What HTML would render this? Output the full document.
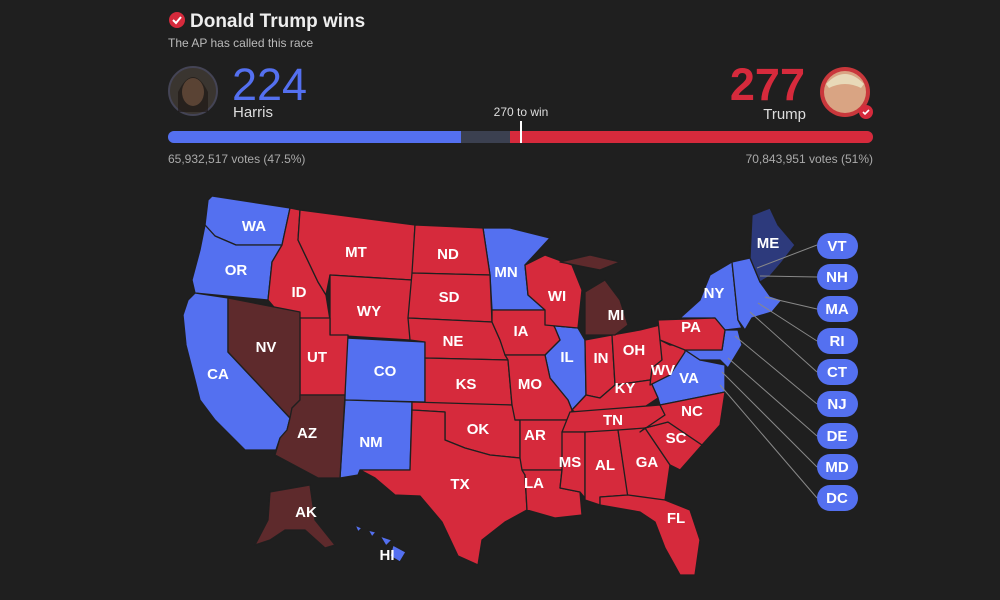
<!DOCTYPE html>
<html><head><meta charset="utf-8"><style>
html,body{margin:0;padding:0;background:#1f1f1f;width:1000px;height:600px;overflow:hidden;font-family:"Liberation Sans",Arial,sans-serif;}
</style></head><body>
<svg width="1000" height="600" viewBox="0 0 1000 600" xmlns="http://www.w3.org/2000/svg" font-family="Liberation Sans, Arial, sans-serif">
<rect width="1000" height="600" fill="#1f1f1f"/>
<circle cx="177" cy="20" r="8" fill="#d62a3c"/>
<path d="M173 20 l3 3 l5 -6" stroke="#fff" stroke-width="2" fill="none"/>
<text x="190" y="27" font-size="19" font-weight="bold" fill="#eee">Donald Trump wins</text>
<text x="168" y="47" font-size="12" fill="#bbb">The AP has called this race</text>
<circle cx="193" cy="91" r="24" fill="#3a3530" stroke="#445" stroke-width="2"/>
<ellipse cx="193" cy="92" rx="11" ry="14" fill="#b88a6a"/>
<path d="M178 92 q15 -30 30 0 l0 20 l-30 0z" fill="#1a1411" opacity="0.6"/>
<text x="232" y="100" font-size="45" fill="#5470f0">224</text>
<text x="233" y="117" font-size="15" fill="#ddd">Harris</text>
<text x="805" y="100" font-size="45" fill="#d62a3c" text-anchor="end" font-weight="bold">277</text>
<text x="806" y="119" font-size="15" fill="#ddd" text-anchor="end">Trump</text>
<circle cx="845" cy="92" r="25" fill="#c9373b"/>
<circle cx="845" cy="92" r="21" fill="#d9a483"/>
<path d="M826 84 q19 -20 38 0 l-3 4 q-16 -8 -32 0z" fill="#e8d9b8"/>
<circle cx="866" cy="112" r="7" fill="#d62a3c"/>
<path d="M863 112 l2 2 l4 -4" stroke="#fff" stroke-width="1.6" fill="none"/>
<text x="521" y="116" font-size="12" fill="#ddd" text-anchor="middle">270 to win</text>
<rect x="168" y="131" width="705" height="12" rx="6" fill="#3b4050"/>
<path d="M174 131 H461 V143 H174 a6 6 0 0 1 0 -12z" fill="#5470f0"/>
<path d="M510 131 H867 a6 6 0 0 1 0 12 H510z" fill="#d62a3c"/>
<rect x="520" y="121" width="2" height="22" fill="#fff"/>
<text x="168" y="163" font-size="12" fill="#aaa">65,932,517 votes (47.5%)</text>
<text x="873" y="163" font-size="12" fill="#aaa" text-anchor="end">70,843,951 votes (51%)</text>

<g stroke="#1f1f1f" stroke-width="1.3" stroke-linejoin="round">
<g fill="#5470f0">
<polygon points="212,196 290,208 282,245 236,245 215,236 205,225 208,200"/>
<polygon points="205,225 215,236 236,245 282,245 272,262 268,300 195,293 192,280 200,250"/>
<polygon points="195,293 228,298 228,352 290,418 287,430 280,438 276,450 245,450 235,440 215,420 200,400 195,380 186,345 183,315 188,300"/>
<polygon points="345,338 425,342 425,402 345,400"/>
<polygon points="345,400 412,402 410,470 360,470 358,475 340,478"/>
<polygon points="483,228 510,228 550,238 525,265 528,295 545,310 492,310 490,275"/>
<polygon points="545,325 578,328 585,340 586,395 572,410 568,400 550,378 545,355 560,340 555,328"/>
<polygon points="650,380 665,375 685,350 700,360 725,365 725,392 660,405 658,398"/>
<polygon points="680,318 700,300 710,275 732,262 738,320 742,328 725,330 715,318"/>
<polygon points="685,350 722,350 725,330 738,330 742,345 728,368 720,360 700,360"/>
<polygon points="732,262 750,258 760,282 770,296 782,300 772,312 752,318 745,330 738,320"/>
<polygon points="355,525 362,528 358,532"/><polygon points="368,530 376,532 372,537"/>
<polygon points="380,536 392,540 386,546"/><polygon points="393,545 406,552 400,562 390,556"/>
</g>
<g fill="#d62a3c">
<polygon points="290,208 300,210 298,240 318,282 326,295 330,320 300,318 285,320 268,300 272,262 282,245"/>
<polygon points="300,210 415,225 412,280 330,275 326,295 318,282 298,240"/>
<polygon points="330,275 412,280 410,340 330,335"/>
<polygon points="300,318 330,318 330,335 348,335 345,395 300,395"/>
<polygon points="415,225 483,228 490,275 412,273"/>
<polygon points="412,273 490,275 492,322 408,318"/>
<polygon points="408,318 492,322 500,340 508,360 425,358 425,342 410,340"/>
<polygon points="425,358 508,360 512,405 425,405"/>
<polygon points="412,402 512,405 520,420 520,458 490,455 465,448 445,440 445,412 412,410"/>
<polygon points="360,470 410,470 412,410 445,412 445,440 465,448 490,455 520,458 525,475 527,510 505,522 482,540 478,565 458,556 442,522 420,496 395,495 375,478"/>
<polygon points="492,310 545,310 555,328 560,340 545,355 505,355 500,340 492,322"/>
<polygon points="505,355 545,355 550,378 568,400 572,410 570,420 515,420 512,405 508,360"/>
<polygon points="515,420 570,420 562,470 522,470 520,458 520,420"/>
<polygon points="522,470 562,470 560,488 580,492 582,515 555,518 527,510 525,475"/>
<polygon points="525,265 545,255 572,265 582,290 578,328 545,325 545,310 528,295"/>
<polygon points="585,340 612,335 615,385 600,398 586,395"/>
<polygon points="612,335 640,330 660,325 662,360 650,380 615,385"/>
<polygon points="572,410 586,395 600,398 615,385 650,380 658,398 640,410 575,412"/>
<polygon points="570,412 660,405 665,415 640,432 562,432"/>
<polygon points="562,432 585,432 585,498 580,492 560,488 562,470"/>
<polygon points="585,432 618,430 628,495 600,497 600,505 585,500"/>
<polygon points="618,430 645,428 670,465 665,500 628,498"/>
<polygon points="600,497 628,495 665,500 690,510 700,540 695,575 680,575 665,548 655,522 640,512 600,505"/>
<polygon points="645,428 668,422 702,445 680,470 670,465"/>
<polygon points="660,405 725,392 720,425 702,445 668,422 645,428 640,432 665,415"/>
<polygon points="660,340 670,345 685,345 685,352 670,375 650,385 652,368 662,360"/>
<polygon points="658,320 715,318 725,330 722,350 685,350 660,340"/>
</g>
<g fill="#5e2a2c">
<polygon points="228,298 300,312 300,400 292,408 290,418 228,352"/>
<polygon points="300,395 345,395 340,478 318,478 275,455 280,438 287,430 290,418 292,408 300,400"/>
<polygon points="585,292 605,280 620,300 628,325 615,335 585,335"/>
<polygon points="560,262 590,255 620,262 600,270"/>
<polygon points="270,492 310,485 315,520 335,545 325,548 305,530 285,530 270,540 255,545 268,520"/>
</g>
<polygon points="750,258 752,215 770,208 778,225 795,245 782,262 770,276 760,282" fill="#2d3a7c"/>
</g>
<g stroke="#888" stroke-width="1">
<line x1="817" y1="245" x2="757" y2="268"/>
<line x1="817" y1="277" x2="760" y2="276"/>
<line x1="817" y1="309" x2="765" y2="297"/>
<line x1="817" y1="341" x2="758" y2="303"/>
<line x1="817" y1="372" x2="750" y2="312"/>
<line x1="817" y1="404" x2="735" y2="336"/>
<line x1="817" y1="436" x2="728" y2="358"/>
<line x1="817" y1="467" x2="722" y2="372"/>
<line x1="817" y1="498" x2="720" y2="385"/>
</g>
<g fill="#5470f0">
<rect x="817" y="233" width="41" height="26" rx="13"/>
<rect x="817" y="264" width="41" height="26" rx="13"/>
<rect x="817" y="296" width="41" height="26" rx="13"/>
<rect x="817" y="328" width="41" height="26" rx="13"/>
<rect x="817" y="359" width="41" height="26" rx="13"/>
<rect x="817" y="391" width="41" height="26" rx="13"/>
<rect x="817" y="423" width="41" height="26" rx="13"/>
<rect x="817" y="454" width="41" height="26" rx="13"/>
<rect x="817" y="485" width="41" height="26" rx="13"/>
</g>
<g fill="#fff" font-size="15" font-weight="bold" text-anchor="middle">
<text x="837" y="251">VT</text><text x="837" y="282">NH</text><text x="837" y="314">MA</text>
<text x="837" y="346">RI</text><text x="837" y="377">CT</text><text x="837" y="409">NJ</text>
<text x="837" y="441">DE</text><text x="837" y="472">MD</text><text x="837" y="503">DC</text>
<text x="254" y="231">WA</text><text x="236" y="275">OR</text><text x="218" y="379">CA</text>
<text x="266" y="352">NV</text><text x="299" y="297">ID</text><text x="356" y="257">MT</text>
<text x="369" y="316">WY</text><text x="317" y="362">UT</text><text x="385" y="376">CO</text>
<text x="307" y="438">AZ</text><text x="371" y="447">NM</text><text x="448" y="259">ND</text>
<text x="449" y="302">SD</text><text x="453" y="346">NE</text><text x="466" y="389">KS</text>
<text x="478" y="434">OK</text><text x="460" y="489">TX</text><text x="506" y="277">MN</text>
<text x="521" y="336">IA</text><text x="530" y="389">MO</text><text x="535" y="440">AR</text>
<text x="534" y="488">LA</text><text x="557" y="301">WI</text><text x="567" y="362">IL</text>
<text x="616" y="320">MI</text><text x="601" y="363">IN</text><text x="634" y="355">OH</text>
<text x="625" y="393">KY</text><text x="613" y="425">TN</text><text x="570" y="467">MS</text>
<text x="605" y="470">AL</text><text x="647" y="467">GA</text><text x="676" y="523">FL</text>
<text x="676" y="443">SC</text><text x="692" y="416">NC</text><text x="689" y="383">VA</text>
<text x="663" y="375">WV</text><text x="691" y="332">PA</text><text x="714" y="298">NY</text>
<text x="768" y="248">ME</text><text x="306" y="517">AK</text><text x="387" y="560">HI</text>
</g>
</svg>
</body></html>
